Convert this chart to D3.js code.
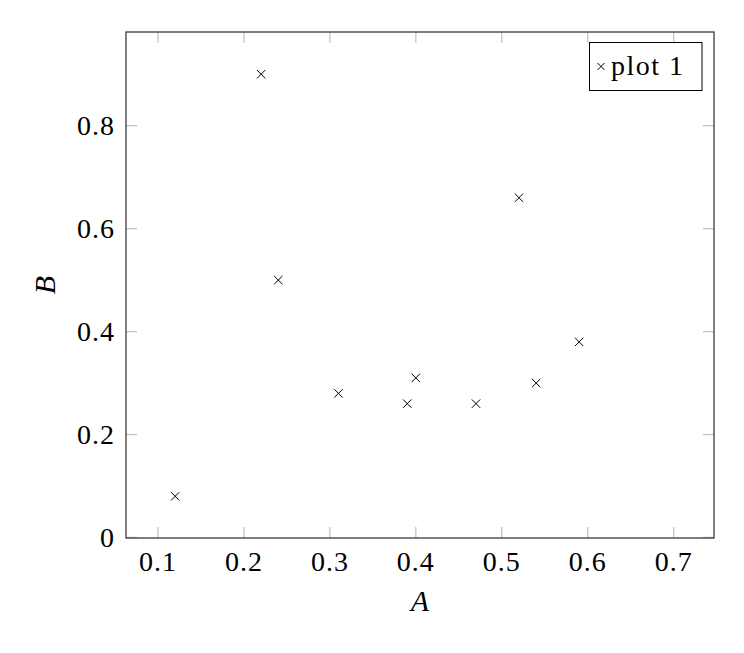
<!DOCTYPE html>
<html><head><meta charset="utf-8">
<script src="https://cdn.jsdelivr.net/npm/d3@7"></script>
<style>
html,body{margin:0;padding:0;background:#fff;}
text{font-family:"Liberation Serif","DejaVu Serif",serif;}
</style></head>
<body>
<svg id="chart" width="744" height="653"></svg>
<script>
const xValues = [0.12, 0.22, 0.24, 0.31, 0.39, 0.40, 0.47, 0.52, 0.54, 0.59];
const yValues = [0.08, 0.90, 0.50, 0.28, 0.26, 0.31, 0.26, 0.66, 0.30, 0.38];
const xTicks = [0.1, 0.2, 0.3, 0.4, 0.5, 0.6, 0.7];
const yTicks = [0, 0.2, 0.4, 0.6, 0.8];
const seriesName = "plot 1";
const xLabel = "A";
const yLabel = "B";

const svg = d3.select("#chart");
const L = 126, R = 714, T = 32, B = 538;
const x = d3.scaleLinear().domain([0.0628, 0.7469]).range([L, R]);
const y = d3.scaleLinear().domain([-0.001, 0.982]).range([B, T]);
const fs = 28;
const ls = 1;
const tickLen = 11;
const tickColor = "#c4c4c4";

// ticks (inside)
const g = svg.append("g");
xTicks.forEach(t => {
  g.append("line").attr("x1", x(t)).attr("x2", x(t)).attr("y1", B).attr("y2", B - tickLen)
    .attr("stroke", tickColor).attr("stroke-width", 1.3);
  g.append("line").attr("x1", x(t)).attr("x2", x(t)).attr("y1", T).attr("y2", T + tickLen)
    .attr("stroke", tickColor).attr("stroke-width", 1.3);
});
yTicks.forEach(t => {
  g.append("line").attr("x1", L).attr("x2", L + tickLen).attr("y1", y(t)).attr("y2", y(t))
    .attr("stroke", tickColor).attr("stroke-width", 1.3);
  g.append("line").attr("x1", R).attr("x2", R - tickLen).attr("y1", y(t)).attr("y2", y(t))
    .attr("stroke", tickColor).attr("stroke-width", 1.3);
});

// frame
svg.append("rect").attr("x", L).attr("y", T).attr("width", R - L).attr("height", B - T)
  .attr("fill", "none").attr("stroke", "#3a3a3a").attr("stroke-width", 1.3);

// tick labels
const fmt = d3.format(".1f");
svg.append("g").selectAll("text").data(xTicks).join("text")
  .attr("x", d => x(d)).attr("y", 570.5).attr("text-anchor", "middle")
  .attr("font-size", fs).attr("letter-spacing", ls).attr("fill", "#000").text(d => fmt(d));
svg.append("g").selectAll("text").data(yTicks).join("text")
  .attr("x", 115).attr("y", d => y(d) + 9.5).attr("text-anchor", "end")
  .attr("font-size", fs).attr("letter-spacing", ls).attr("fill", "#000").text(d => d === 0 ? "0" : fmt(d));

// axis labels
svg.append("text").attr("x", (L + R) / 2).attr("y", 611).attr("text-anchor", "middle")
  .attr("font-size", 30).attr("font-style", "italic").text(xLabel);
svg.append("text").attr("transform", `translate(55,${(T + B) / 2}) rotate(-90)`)
  .attr("text-anchor", "middle").attr("font-size", 30).attr("font-style", "italic").text(yLabel);

// markers
const cross = (sel, cx, cy, s) => {
  sel.append("path").attr("d", `M${cx - s},${cy - s}L${cx + s},${cy + s}M${cx - s},${cy + s}L${cx + s},${cy - s}`)
    .attr("stroke", "#000").attr("stroke-width", 1).attr("fill", "none");
};
const pts = svg.append("g");
xValues.forEach((v, i) => cross(pts, x(v), y(yValues[i]), 4.2));

// legend
const lg = svg.append("g");
lg.append("rect").attr("x", 589.5).attr("y", 42.5).attr("width", 112.5).attr("height", 48)
  .attr("fill", "#fff").attr("stroke", "#000").attr("stroke-width", 1);
cross(lg, 601, 66.5, 3.5);
lg.append("text").attr("x", 611).attr("y", 75).attr("font-size", fs).attr("letter-spacing", 1.5).text(seriesName);
</script>
</body></html>
